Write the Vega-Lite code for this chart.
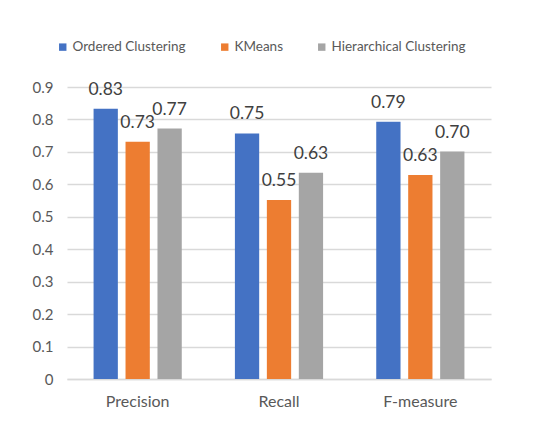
{
  "$schema": "https://vega.github.io/schema/vega-lite/v6.json",
  "description": "Grouped bars: Precision, Recall, F-measure for three clustering methods.",
  "autosize": "none",
  "width": 424,
  "height": 292,
  "padding": {"left": 67, "top": 87, "right": 59, "bottom": 58},
  "background": "white",
  "data": {
    "values": [
      {"metric": "Precision", "method": "Ordered Clustering", "score": 0.833, "label": "0.83"},
      {"metric": "Precision", "method": "KMeans", "score": 0.731, "label": "0.73"},
      {"metric": "Precision", "method": "Hierarchical Clustering", "score": 0.772, "label": "0.77"},
      {"metric": "Recall", "method": "Ordered Clustering", "score": 0.757, "label": "0.75"},
      {"metric": "Recall", "method": "KMeans", "score": 0.552, "label": "0.55"},
      {"metric": "Recall", "method": "Hierarchical Clustering", "score": 0.636, "label": "0.63"},
      {"metric": "F-measure", "method": "Ordered Clustering", "score": 0.793, "label": "0.79"},
      {"metric": "F-measure", "method": "KMeans", "score": 0.629, "label": "0.63"},
      {"metric": "F-measure", "method": "Hierarchical Clustering", "score": 0.701, "label": "0.70"}
    ]
  },
  "encoding": {
    "x": {
      "field": "metric",
      "type": "nominal",
      "sort": ["Precision", "Recall", "F-measure"],
      "scale": {"paddingInner": 0.376, "paddingOuter": 0.188},
      "axis": {
        "title": null,
        "labelAngle": 0,
        "labelFont": "Lato",
        "labelFontSize": 16,
        "labelColor": "#595959",
        "labelPadding": 14,
        "ticks": false,
        "domainColor": "#d9d9d9",
        "domainWidth": 1.3
      }
    },
    "xOffset": {
      "field": "method",
      "type": "nominal",
      "sort": ["Ordered Clustering", "KMeans", "Hierarchical Clustering"],
      "scale": {"paddingInner": 0.24, "paddingOuter": 0}
    },
    "y": {
      "field": "score",
      "type": "quantitative",
      "scale": {"domain": [0, 0.9], "nice": false},
      "axis": {
        "title": null,
        "values": [0, 0.1, 0.2, 0.3, 0.4, 0.5, 0.6, 0.7, 0.8, 0.9],
        "format": ".1~f",
        "labelFont": "Lato",
        "labelFontSize": 15,
        "labelColor": "#595959",
        "labelPadding": 14,
        "ticks": false,
        "domain": false,
        "gridColor": "#d9d9d9",
        "gridWidth": 1.3
      }
    },
    "color": {
      "field": "method",
      "type": "nominal",
      "sort": ["Ordered Clustering", "KMeans", "Hierarchical Clustering"],
      "scale": {
        "domain": ["Ordered Clustering", "KMeans", "Hierarchical Clustering"],
        "range": ["#4472C4", "#ED7D31", "#A5A5A5"]
      },
      "legend": {
        "title": null,
        "orient": "none",
        "direction": "horizontal",
        "legendX": -11,
        "legendY": -47,
        "symbolType": "square",
        "symbolSize": 55,
        "symbolStrokeWidth": 0,
        "labelFont": "Lato",
        "labelFontSize": 13.5,
        "labelColor": "#595959",
        "labelOffset": 3,
        "columnPadding": 32
      }
    }
  },
  "layer": [
    {"mark": {"type": "bar"}},
    {
      "mark": {
        "type": "text",
        "baseline": "alphabetic",
        "dy": -14,
        "font": "Lato",
        "fontSize": 17.5,
        "color": "#404040"
      },
      "encoding": {"text": {"field": "label"}, "color": {"value": "#404040"}}
    }
  ],
  "config": {"view": {"stroke": null}}
}
